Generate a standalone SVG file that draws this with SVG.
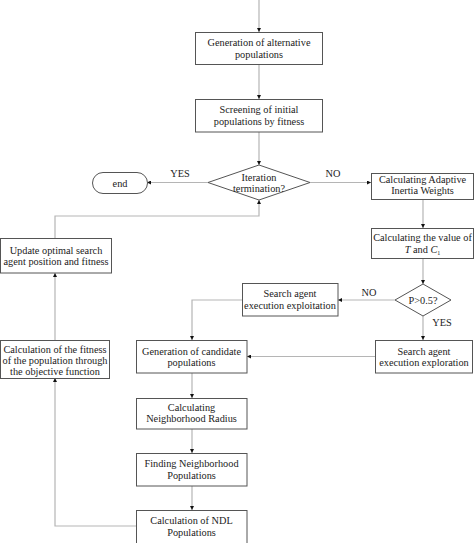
<svg xmlns="http://www.w3.org/2000/svg" width="474" height="543" viewBox="0 0 474 543">
<style>
.box{fill:#fff;stroke:#555;stroke-width:1}
.c{fill:none;stroke:#b5b5b5;stroke-width:1.2}
text{font-family:"Liberation Serif","DejaVu Serif",serif;font-size:10.3px;fill:#222;text-anchor:middle}
</style>
<defs>
<marker id="ah" viewBox="0 0 6 6" refX="6" refY="3" markerWidth="4" markerHeight="4" orient="auto" markerUnits="userSpaceOnUse">
<path d="M0,0 L6,3 L0,6 Z" fill="#111"/>
</marker>
</defs>
<rect width="474" height="543" fill="#fff"/>
<g id="connectors">
<path class="c" d="M259,0 V32" marker-end="url(#ah)"/>
<path class="c" d="M259,64 V99" marker-end="url(#ah)"/>
<path class="c" d="M259,132 V165" marker-end="url(#ah)"/>
<path class="c" d="M208,182.5 H147" marker-end="url(#ah)"/>
<path class="c" d="M310,182.5 H371" marker-end="url(#ah)"/>
<path class="c" d="M423,199 V228" marker-end="url(#ah)"/>
<path class="c" d="M423,258 V284" marker-end="url(#ah)"/>
<path class="c" d="M395,300 H338" marker-end="url(#ah)"/>
<path class="c" d="M423,316 V340" marker-end="url(#ah)"/>
<path class="c" d="M375,356.5 H247" marker-end="url(#ah)"/>
<path class="c" d="M242,300 H192 V340" marker-end="url(#ah)"/>
<path class="c" d="M192,373 V398" marker-end="url(#ah)"/>
<path class="c" d="M192,429 V453" marker-end="url(#ah)"/>
<path class="c" d="M192,486 V510" marker-end="url(#ah)"/>
<path class="c" d="M136,526 H55 V378" marker-end="url(#ah)"/>
<path class="c" d="M55,340 V273" marker-end="url(#ah)"/>
<path class="c" d="M55,238 V216 H259 V200" marker-end="url(#ah)"/>
<text x="180" y="177">YES</text>
<text x="333" y="177">NO</text>
<text x="369" y="296">NO</text>
<text x="442" y="326">YES</text>
</g>
<g id="gen-alt">
<rect class="box" x="195.5" y="32.5" width="127" height="32"/>
<text x="259" y="46">Generation of alternative</text>
<text x="259" y="57.5">populations</text>
</g>
<g id="screening">
<rect class="box" x="195.5" y="99.5" width="127" height="32.5"/>
<text x="259" y="113">Screening of initial</text>
<text x="259" y="124.5">populations by fitness</text>
</g>
<g id="iteration">
<polygon class="box" points="208,182.5 259,165 310,182.5 259,200"/>
<text x="259" y="181">Iteration</text>
<text x="259" y="192">termination?</text>
</g>
<g id="end">
<rect class="box" x="92.5" y="172.5" width="55" height="21" rx="10.5"/>
<text x="120" y="186.5">end</text>
</g>
<g id="adaptive">
<rect class="box" x="371.5" y="173.5" width="102" height="26"/>
<text x="422.5" y="183">Calculating Adaptive</text>
<text x="422.5" y="194">Inertia Weights</text>
</g>
<g id="calc-t">
<rect class="box" x="371.5" y="228.5" width="102" height="30"/>
<text x="422.5" y="241">Calculating the value of</text>
<text x="422.5" y="252.5"><tspan font-style="italic">T</tspan> and <tspan font-style="italic">C</tspan><tspan font-size="6" dy="2">1</tspan></text>
</g>
<g id="p-decision">
<polygon class="box" points="395,300 423,284 451,300 423,316"/>
<text x="423" y="303.5">P&gt;0.5?</text>
</g>
<g id="exploitation">
<rect class="box" x="242.5" y="283.5" width="95.5" height="32.5"/>
<text x="290" y="297">Search agent</text>
<text x="290" y="309">execution exploitation</text>
</g>
<g id="exploration">
<rect class="box" x="375.5" y="340.5" width="97" height="32.5"/>
<text x="424" y="354.5">Search agent</text>
<text x="424" y="366">execution exploration</text>
</g>
<g id="candidate">
<rect class="box" x="136.5" y="340.5" width="110.5" height="32.5"/>
<text x="191.5" y="354.5">Generation of candidate</text>
<text x="191.5" y="366">populations</text>
</g>
<g id="radius">
<rect class="box" x="136.5" y="398.5" width="110.5" height="30.5"/>
<text x="191.5" y="411">Calculating</text>
<text x="191.5" y="422">Neighborhood Radius</text>
</g>
<g id="finding">
<rect class="box" x="136.5" y="453.5" width="110.5" height="32.5"/>
<text x="191.5" y="467">Finding Neighborhood</text>
<text x="191.5" y="478.5">Populations</text>
</g>
<g id="ndl">
<rect class="box" x="136.5" y="510.5" width="110.5" height="40"/>
<text x="191.5" y="524">Calculation of NDL</text>
<text x="191.5" y="535.5">Populations</text>
</g>
<g id="fitness">
<rect class="box" x="0.5" y="340.5" width="109" height="38"/>
<text x="55" y="353">Calculation of the fitness</text>
<text x="55" y="364">of the population through</text>
<text x="55" y="375">the objective function</text>
</g>
<g id="update">
<rect class="box" x="0.5" y="238.5" width="111" height="34.5"/>
<text x="56" y="253.5">Update optimal search</text>
<text x="56" y="265">agent position and fitness</text>
</g>
</svg>
